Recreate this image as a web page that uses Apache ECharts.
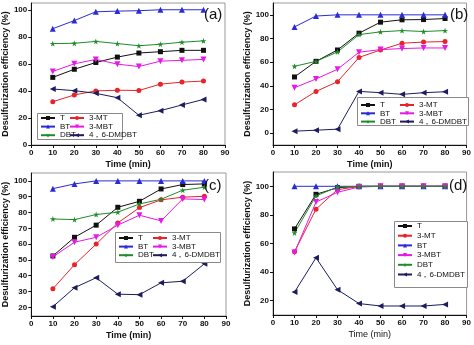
<!DOCTYPE html>
<html><head><meta charset="utf-8">
<script src="https://cdn.jsdelivr.net/npm/echarts@6/dist/echarts.min.js"></script>
<style>html,body{margin:0;padding:0;background:#fff}#c{width:474px;height:345px}</style>
</head><body><div id="c"></div>
<script>
const times = [10,20,30,40,50,60,70,80];
const seriesNames = ['T','3-MT','BT','3-MBT','DBT','4，6-DMDBT'];
const panelLabels = ['(a)','(b)','(c)','(d)'];
const xTitle = 'Time (min)';
const yTitle = 'Desulfurization efficiency (%)';
const xTicks = [0,10,20,30,40,50,60,70,80,90];
const yTicksA = [0,20,40,60,80,100];
const yTicksB = [0,20,40,60,80,100];
const yTicksC = [20,30,40,50,60,70,80,90,100];
const yTicksD = [20,40,60,80,100];

const a_T = [50,56,61,65,68,69,70,70];
const a_3MT = [32,37,40,40.5,40.3,45,46.5,47.3];
const a_BT = [86,92,98.5,99,99.3,100,100,100];
const a_3MBT = [54.4,60,63.3,59.8,58,62,62.6,63.3];
const a_DBT = [75,75.2,76.6,75,73.4,74.5,76,77];
const a_DMDBT = [41.4,40.2,38.2,35,22,25.4,29.6,33.7];

const b_T = [47.5,60.7,70.3,84.5,93.8,95.8,96,96.9];
const b_3MT = [24,35.3,43.5,64,70.3,76,77,77.4];
const b_BT = [89.8,99,100,100,100,100,100,100];
const b_3MBT = [38.4,45.8,54,68.4,70.6,71.5,72,72];
const b_DBT = [56.5,60.7,68.6,83.3,85.6,86.7,85.9,86.7];
const b_DMDBT = [1.7,2.5,3.4,35.3,34.2,32.8,34.2,35];

const c_T = [52.5,64.3,72,83.3,87.1,94.9,97.7,98.1];
const c_3MT = [31.7,47,60,73.4,83.1,88,89.7,90.3];
const c_BT = [95.1,98.1,100,100,100,100,100,100];
const c_3MBT = [51.9,61.2,64.3,72,78.3,74.7,88.6,88.2];
const c_DBT = [75.9,75.5,78.7,80.2,85.4,88.4,94.1,96];
const c_DMDBT = [20.4,32.4,38.7,28.3,28,35.5,36.5,47.5];

const d_T = [70.2,94.4,99,100,100,100,100,100];
const d_3MT = [54.2,84,97.7,99.8,100,100,100,100];
const d_BT = [100,100,100,100,100,100,100,100];
const d_3MBT = [53.7,89,95.8,99.5,100,100,100,100];
const d_DBT = [67.4,93.3,99.5,100,100,100,100,100];
const d_DMDBT = [26,50,27.7,18,16.3,16.3,16.3,17.4];

const panels = [
  [a_T,a_3MT,a_BT,a_3MBT,a_DBT,a_DMDBT],
  [b_T,b_3MT,b_BT,b_3MBT,b_DBT,b_DMDBT],
  [c_T,c_3MT,c_BT,c_3MBT,c_DBT,c_DMDBT],
  [d_T,d_3MT,d_BT,d_3MBT,d_DBT,d_DMDBT]
];

const colors = ['#111111','#e8232a','#2b2bd6','#e619e6','#1f8c2a','#1c1c5e'];
const symbols = ['rect','circle','triangle','path://M0,0 L10,0 L5,9 Z','path://M50,0 L61,35 L98,35 L68,57 L79,91 L50,70 L21,91 L32,57 L2,35 L39,35 Z','path://M0,5 L9,0 L9,10 Z'];
const symSizes = [5,5,6,6,6,6];

const grids = [
  {left:31, top:3, width:194, height:142},
  {left:273, top:3, width:194, height:142},
  {left:31, top:173, width:195, height:143},
  {left:273, top:172, width:194, height:143}
];
const yRanges = [[0,105,yTicksA],[-10,110,yTicksB],[14.5,105,yTicksC],[10,110,yTicksD]];
const font = 'Arial, "Liberation Sans", sans-serif';

const option = {
  animation:false,
  backgroundColor:'#fff',
  grid: grids.map(g=>Object.assign({show:true,borderColor:'#9a9a9a',borderWidth:1,backgroundColor:'#fff'},g)),
  xAxis: grids.map((g,i)=>({
    type:'value', gridIndex:i, min:0, max:90, interval:10,
    name:xTitle, nameLocation:'middle', nameGap:15,
    nameTextStyle:{fontFamily:font,fontSize:9,fontWeight:i===3?'normal':'bold',color:'#111'},
    axisLine:{show:true,onZero:false,lineStyle:{color:'#111',width:1}},
    axisTick:{show:true,length:3,lineStyle:{color:'#111'}},
    axisLabel:{fontFamily:font,fontSize:8,fontWeight:'bold',color:'#111',margin:4,customValues:xTicks},
    splitLine:{show:false}
  })),
  yAxis: grids.map((g,i)=>({
    type:'value', gridIndex:i, min:yRanges[i][0], max:yRanges[i][1],
    name:yTitle, nameLocation:'middle', nameGap:20,
    nameTextStyle:{fontFamily:font,fontSize:9,fontWeight:'bold',color:'#111'},
    axisLine:{show:true,onZero:false,lineStyle:{color:'#111',width:1}},
    axisTick:{show:true,length:3,lineStyle:{color:'#111'},customValues:yRanges[i][2]},
    axisLabel:{fontFamily:font,fontSize:8,fontWeight:'bold',color:'#111',margin:4,customValues:yRanges[i][2]},
    splitLine:{show:false}
  })),
  legend: [],
  graphic: [],
  series: []
};

panels.forEach((vals,p)=>{
  vals.forEach((arr,s)=>{
    option.series.push({
      type:'line', name:seriesNames[s], xAxisIndex:p, yAxisIndex:p,
      data: times.map((t,k)=>[t,arr[k]]),
      symbol:symbols[s], symbolSize:symSizes[s],
      lineStyle:{color:colors[s],width:1},
      itemStyle:{color:colors[s]},
      z: 2
    });
  });
});

const legStyle = {fontFamily:font,fontSize:8,color:'#111',lineHeight:8};
function leg(left,top,data,gap){
  return {orient:'vertical',left:left,top:top,padding:0,itemGap:gap,itemWidth:14,itemHeight:5,
    data:data,textStyle:legStyle,selectedMode:false,z:8};
}
const c1 = [seriesNames[0],seriesNames[2],seriesNames[4]];
const c2 = [seriesNames[1],seriesNames[3],seriesNames[5]];
option.legend.push(leg(40,114,c1,0.6), leg(69,114,c2,0.6));
option.legend.push(leg(360,101,c1,0.3), leg(399,101,c2,0.3));
option.legend.push(leg(118,234,c1,0.6), leg(152,234,c2,0.6));
option.legend.push(leg(397,222,seriesNames,1.7));

const boxes = [[37,113,85,26],[357,97,111,28],[115,232,105,30],[394,221,73,66]];
boxes.forEach(b=>option.graphic.push({type:'rect',shape:{x:b[0]+0.5,y:b[1]+0.5,width:b[2],height:b[3]},style:{fill:'#fff',stroke:'#8a8a8a',lineWidth:1},z:5,silent:true}));
const labPos = [[204,15],[450,15],[204,186],[449,186]];
labPos.forEach((q,i)=>option.graphic.push({type:'text',x:q[0],y:q[1],style:{text:panelLabels[i],font:'15px '+font,fill:'#111',verticalAlign:'middle'},z:9}));

const chart = echarts.init(document.getElementById('c'),null,{renderer:'canvas'});
chart.setOption(option);
</script></body></html>
